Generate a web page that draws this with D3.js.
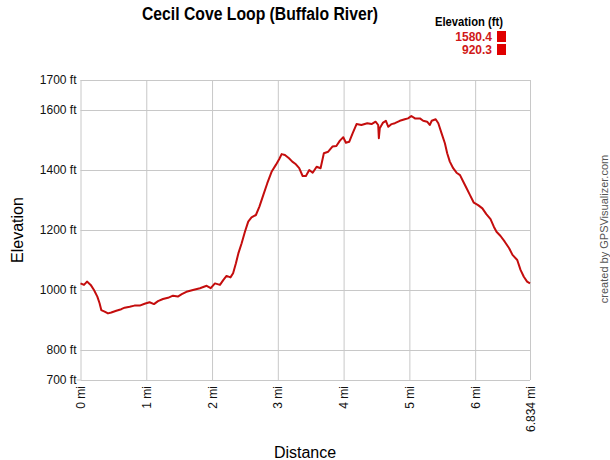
<!DOCTYPE html>
<html>
<head>
<meta charset="utf-8">
<script src="https://cdn.jsdelivr.net/npm/d3@7"></script>
<style>
  body { margin: 0; background: #fff; }
  svg { display: block; font-family: "Liberation Sans", Arial, sans-serif; }
</style>
</head>
<body>
<svg id="chart" width="610" height="460"></svg>
<script>
// Track profile: distance (mi) and elevation (ft)
const distMi = [
  0, 0.053, 0.099, 0.155, 0.205, 0.256, 0.29, 0.316, 0.367, 0.418, 0.468, 0.544,
  0.62, 0.671, 0.748, 0.82, 0.9, 0.975, 1.05, 1.117, 1.178, 1.254, 1.33, 1.406,
  1.48, 1.54, 1.61, 1.71, 1.816, 1.918, 1.98, 2.044, 2.12, 2.17, 2.22, 2.28,
  2.32, 2.363, 2.4, 2.45, 2.5, 2.55, 2.6, 2.667, 2.72, 2.78, 2.84, 2.905,
  2.97, 3.02, 3.058, 3.108, 3.17, 3.22, 3.275, 3.325, 3.377, 3.427, 3.478, 3.53,
  3.59, 3.65, 3.7, 3.766, 3.83, 3.89, 3.944, 3.995, 4.035, 4.085, 4.137, 4.197,
  4.27, 4.36, 4.425, 4.486, 4.526, 4.536, 4.55, 4.6, 4.643, 4.68, 4.73, 4.78,
  4.855, 4.93, 4.98, 5.03, 5.085, 5.16, 5.21, 5.27, 5.31, 5.34, 5.4, 5.44,
  5.49, 5.54, 5.575, 5.615, 5.666, 5.717, 5.77, 5.82, 5.87, 5.92, 5.98, 6.045,
  6.11, 6.17, 6.234, 6.284, 6.325, 6.386, 6.45, 6.517, 6.568, 6.64, 6.69, 6.74,
  6.79, 6.834
];
const elevFt = [
  1022, 1017, 1028, 1017, 1000, 978, 956, 933, 928, 922, 925, 931,
  936, 941, 944, 948, 948, 954, 959, 953, 963, 970, 974, 981,
  978, 986, 994, 1000, 1006, 1014, 1006, 1022, 1017, 1033, 1047, 1042,
  1056, 1089, 1122, 1156, 1194, 1228, 1242, 1250, 1278, 1317, 1356, 1394,
  1417, 1436, 1453, 1450, 1439, 1428, 1419, 1406, 1380, 1380, 1400, 1391,
  1411, 1406, 1456, 1461, 1478, 1480, 1498, 1509, 1491, 1494, 1522, 1553,
  1550, 1556, 1553, 1561, 1550, 1506, 1539, 1558, 1564, 1544, 1553, 1556,
  1564, 1569, 1572, 1580, 1572, 1572, 1564, 1561, 1550, 1564, 1569, 1556,
  1522, 1489, 1456, 1428, 1406, 1391, 1383, 1361, 1339, 1317, 1291, 1283,
  1272, 1253, 1236, 1211, 1194, 1180, 1161, 1139, 1117, 1100, 1067, 1044,
  1028, 1022
];

const yTicks = [700, 800, 1000, 1200, 1400, 1600, 1700];
const xTicks = [0, 1, 2, 3, 4, 5, 6, 6.834];
const legendLabels = ['1580.4', '920.3'];

const svg = d3.select('#chart');
const margin = { top: 80, left: 80.5, right: 80, bottom: 80 };
const width = 610 - margin.left - margin.right;
const height = 460 - margin.top - margin.bottom;
const gridColor = '#c8c8c8';
const lineColor = '#c40d0d';

const x = d3.scaleLinear().domain([0, 6.834]).range([0, width]);
const y = d3.scaleLinear().domain([700, 1700]).range([height, 0]);

const plot = svg.append('g')
  .attr('transform', `translate(${margin.left},${margin.top})`);

// grid + y labels
const yAxis = plot.append('g')
  .call(d3.axisLeft(y).tickValues(yTicks).tickSize(-width).tickPadding(4)
    .tickFormat(d => d + ' ft'));
yAxis.select('.domain').remove();
yAxis.selectAll('line').attr('stroke', gridColor);
yAxis.selectAll('text').attr('font-size', 12).attr('fill', '#111');

// grid + x labels
const xAxis = plot.append('g')
  .attr('transform', `translate(0,${height})`)
  .call(d3.axisBottom(x).tickValues(xTicks).tickSize(-height).tickPadding(0)
    .tickFormat(d => d + ' mi'));
xAxis.select('.domain').remove();
xAxis.selectAll('line').attr('stroke', gridColor);
xAxis.selectAll('text')
  .attr('font-size', 12)
  .attr('fill', '#111')
  .attr('text-anchor', 'end')
  .attr('dy', null)
  .attr('y', 0)
  .attr('transform', 'translate(4,6) rotate(-90)');

// small tick stub at bottom-left
plot.append('line')
  .attr('x1', -4).attr('x2', 0)
  .attr('y1', height).attr('y2', height)
  .attr('stroke', gridColor);

// elevation line
const pts = distMi.map((d, i) => [d, elevFt[i]]);
plot.append('path')
  .datum(pts)
  .attr('fill', 'none')
  .attr('stroke', lineColor)
  .attr('stroke-width', 2)
  .attr('stroke-linejoin', 'round')
  .attr('d', d3.line().x(d => x(d[0])).y(d => y(d[1])));

// title
svg.append('text')
  .attr('x', 260).attr('y', 20)
  .attr('text-anchor', 'middle')
  .attr('font-size', 18).attr('font-weight', 'bold')
  .attr('textLength', 236).attr('lengthAdjust', 'spacingAndGlyphs')
  .text('Cecil Cove Loop (Buffalo River)');

// axis titles
svg.append('text')
  .attr('x', 305).attr('y', 458)
  .attr('text-anchor', 'middle')
  .attr('font-size', 16)
  .text('Distance');

svg.append('text')
  .attr('transform', 'translate(23,230) rotate(-90)')
  .attr('text-anchor', 'middle')
  .attr('font-size', 16)
  .text('Elevation');

svg.append('text')
  .attr('transform', 'translate(608,229) rotate(-90)')
  .attr('text-anchor', 'middle')
  .attr('font-size', 11)
  .attr('fill', '#555')
  .text('created by GPSVisualizer.com');

// legend
svg.append('text')
  .attr('x', 503).attr('y', 26)
  .attr('text-anchor', 'end')
  .attr('font-size', 12).attr('font-weight', 'bold')
  .attr('textLength', 68).attr('lengthAdjust', 'spacingAndGlyphs')
  .text('Elevation (ft)');

const leg = svg.append('g');
legendLabels.forEach((t, i) => {
  leg.append('text')
    .attr('x', 492).attr('y', 41 + i * 13)
    .attr('text-anchor', 'end')
    .attr('font-size', 12).attr('font-weight', 'bold')
    .attr('fill', '#d01818')
    .text(t);
  leg.append('rect')
    .attr('x', 497).attr('y', 31 + i * 13)
    .attr('width', 9).attr('height', 11)
    .attr('fill', '#e00000');
});
</script>
</body>
</html>
